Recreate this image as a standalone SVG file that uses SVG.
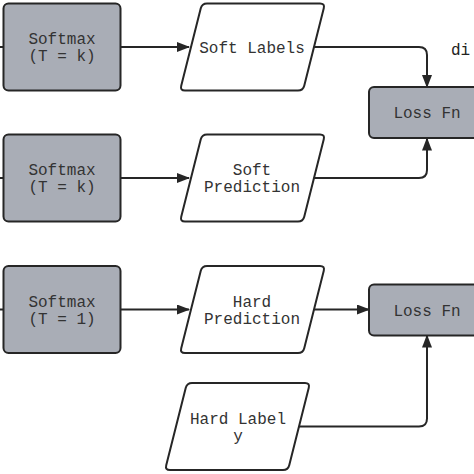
<svg xmlns="http://www.w3.org/2000/svg" width="474" height="474" viewBox="0 0 474 474">
<style>
.proc{fill:#a9adb6;stroke:#262626;stroke-width:2}
.io{fill:#ffffff;stroke:#262626;stroke-width:2}
.lbl{font-family:"Liberation Mono","DejaVu Sans Mono",monospace;font-size:16px;fill:#333;text-anchor:middle}
.edge{fill:none;stroke:#262626;stroke-width:2}
</style>
<defs>
<path id="para" d="M27,0 L140,0 Q145,0 143.77,4.85 L124.23,82.15 Q123,87 118,87 L5,87 Q0,87 1.23,82.15 L20.77,4.85 Q22,0 27,0 Z"/>
<marker id="arr" markerUnits="userSpaceOnUse" markerWidth="14" markerHeight="11" refX="12" refY="5" orient="auto">
<path d="M0,0 L13,5 L0,10 Z" fill="#262626"/>
</marker>
</defs>
<g id="connectors">
<path class="edge" d="M0,47 H3.5"/>
<path class="edge" d="M0,178 H3.5"/>
<path class="edge" d="M0,309.5 H3.5"/>
<path class="edge" d="M121,47 H189" marker-end="url(#arr)"/>
<path class="edge" d="M121,178 H189" marker-end="url(#arr)"/>
<path class="edge" d="M121,309.5 H189" marker-end="url(#arr)"/>
<path class="edge" d="M313,47 H419 Q427,47 427,55 V87" marker-end="url(#arr)"/>
<path class="edge" d="M313,178 H419 Q427,178 427,170 V138.5" marker-end="url(#arr)"/>
<path class="edge" d="M313,309.5 H369" marker-end="url(#arr)"/>
<path class="edge" d="M298,426.5 H419 Q427,426.5 427,418.5 V335.5" marker-end="url(#arr)"/>
</g>
<g id="softmax1">
<rect class="proc" x="3.5" y="3.5" width="117" height="87" rx="5"/>
<text class="lbl" x="62" y="44">Softmax</text>
<text class="lbl" x="62" y="61">(T = k)</text>
</g>
<g id="softmax2">
<rect class="proc" x="3.5" y="134.5" width="117" height="87" rx="5"/>
<text class="lbl" x="62" y="175">Softmax</text>
<text class="lbl" x="62" y="192">(T = k)</text>
</g>
<g id="softmax3">
<rect class="proc" x="3.5" y="266" width="117" height="87" rx="5"/>
<text class="lbl" x="62" y="306.5">Softmax</text>
<text class="lbl" x="62" y="323.5">(T = 1)</text>
</g>
<g id="softlabels">
<use href="#para" class="io" transform="translate(180,3.5)"/>
<text class="lbl" x="252" y="52.5">Soft Labels</text>
</g>
<g id="softpred">
<use href="#para" class="io" transform="translate(180,134.5)"/>
<text class="lbl" x="252" y="175">Soft</text>
<text class="lbl" x="252" y="192">Prediction</text>
</g>
<g id="hardpred">
<use href="#para" class="io" transform="translate(180,266)"/>
<text class="lbl" x="252" y="306.5">Hard</text>
<text class="lbl" x="252" y="323.5">Prediction</text>
</g>
<g id="hardlabel">
<use href="#para" class="io" transform="translate(165,383)"/>
<text class="lbl" x="238" y="424">Hard Label</text>
<text class="lbl" x="238" y="441">y</text>
</g>
<g id="loss1">
<rect class="proc" x="369" y="87" width="120" height="51" rx="5"/>
<text class="lbl" x="427" y="118">Loss Fn</text>
</g>
<g id="loss2">
<rect class="proc" x="369" y="284.5" width="120" height="51" rx="5"/>
<text class="lbl" x="427" y="315.5">Loss Fn</text>
</g>
<text class="lbl" x="451" y="55" style="text-anchor:start;fill:#222">di</text>
</svg>
